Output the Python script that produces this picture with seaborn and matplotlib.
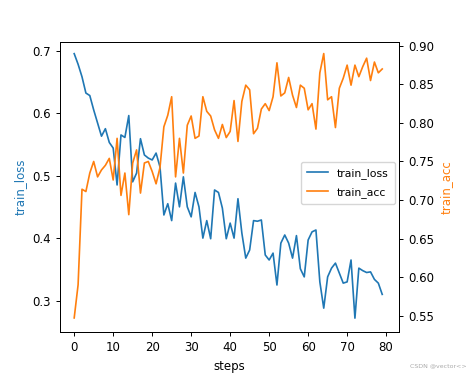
import matplotlib
matplotlib.use("Agg")
import matplotlib.pyplot as plt
import seaborn as sns
import numpy as np
import pandas as pd

steps = list(range(80))
train_loss = [0.695, 0.678, 0.658, 0.632, 0.628, 0.605, 0.584, 0.563, 0.575, 0.553,
              0.544, 0.485, 0.565, 0.561, 0.596, 0.490, 0.504, 0.559, 0.533, 0.528,
              0.525, 0.536, 0.514, 0.437, 0.455, 0.428, 0.488, 0.450, 0.498, 0.450,
              0.434, 0.473, 0.450, 0.400, 0.428, 0.399, 0.477, 0.473, 0.448, 0.399,
              0.424, 0.400, 0.463, 0.408, 0.368, 0.381, 0.428, 0.427, 0.429, 0.373,
              0.365, 0.376, 0.325, 0.392, 0.405, 0.392, 0.368, 0.404, 0.351, 0.338,
              0.397, 0.410, 0.413, 0.330, 0.288, 0.338, 0.352, 0.360, 0.344, 0.328,
              0.330, 0.365, 0.272, 0.352, 0.348, 0.345, 0.346, 0.334, 0.328, 0.310]
train_acc = [0.547, 0.590, 0.714, 0.711, 0.735, 0.750, 0.730, 0.739, 0.745, 0.754,
             0.726, 0.780, 0.706, 0.735, 0.681, 0.748, 0.765, 0.709, 0.748, 0.750,
             0.737, 0.721, 0.742, 0.795, 0.810, 0.834, 0.730, 0.780, 0.735, 0.797,
             0.809, 0.780, 0.783, 0.834, 0.815, 0.809, 0.791, 0.780, 0.798, 0.781,
             0.789, 0.829, 0.776, 0.828, 0.849, 0.843, 0.786, 0.793, 0.818, 0.825,
             0.816, 0.834, 0.878, 0.835, 0.839, 0.859, 0.836, 0.820, 0.849, 0.845,
             0.817, 0.825, 0.792, 0.865, 0.890, 0.830, 0.834, 0.794, 0.845, 0.858,
             0.875, 0.849, 0.875, 0.860, 0.873, 0.884, 0.855, 0.879, 0.865, 0.870]
x_ticks = [0, 10, 20, 30, 40, 50, 60, 70, 80]
loss_ticks = [0.3, 0.4, 0.5, 0.6, 0.7]
acc_ticks = [0.55, 0.60, 0.65, 0.70, 0.75, 0.80, 0.85, 0.90]

df = pd.DataFrame({"steps": steps, "train_loss": train_loss, "train_acc": train_acc})

plt.rcParams["font.family"] = ["DejaVu Sans"]
fs = 8.5
fig = plt.figure(figsize=(4.74, 3.73), dpi=100)
ax = fig.add_axes([0.127, 0.110, 0.715, 0.777])
ax2 = ax.twinx()

c1, c2 = "#1f77b4", "#ff7f0e"
sns.lineplot(data=df, x="steps", y="train_loss", ax=ax, color=c1, lw=1.2, label="train_loss", legend=False)
sns.lineplot(data=df, x="steps", y="train_acc", ax=ax2, color=c2, lw=1.2, label="train_acc", legend=False)

ax.set_xticks(x_ticks)
ax.set_yticks(loss_ticks)
ax2.set_yticks(acc_ticks)
ax2.set_yticklabels([f"{v:.2f}" for v in acc_ticks])
ax.set_xlim(-3.59, 83.33)
ax.set_ylim(0.2499, 0.7134)
ax2.set_ylim(0.5288, 0.9048)

for a in (ax, ax2):
    a.tick_params(labelsize=fs, width=0.7, length=3)
    for s in a.spines.values():
        s.set_linewidth(0.7)
ax.set_xlabel("steps", fontsize=fs)
ax.set_ylabel("train_loss", fontsize=fs, color=c1)
ax2.set_ylabel("train_acc", fontsize=fs, color=c2)

h1, l1 = ax.get_legend_handles_labels()
h2, l2 = ax2.get_legend_handles_labels()
ax2.legend(h1 + h2, l1 + l2, loc="center right", fontsize=7.8,
           bbox_to_anchor=(1.0, 0.514), handlelength=1.9, borderaxespad=0.4,
           labelspacing=0.75, borderpad=0.6)

fig.text(0.985, 0.012, "CSDN @vector<>", fontsize=4.5, color="#aaaaaa", ha="right", va="bottom")
fig.savefig("out.png", dpi=100)
